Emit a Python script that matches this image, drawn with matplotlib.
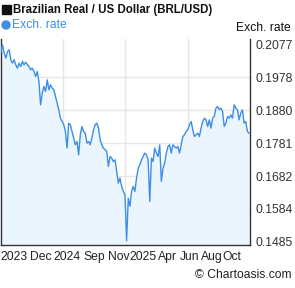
import matplotlib
matplotlib.use("Agg")
import matplotlib.pyplot as plt
import matplotlib.patches as mpatches
import numpy as np

plt.rcParams['font.family'] = ['Liberation Sans', 'DejaVu Sans']

# Exchange rate samples (BRL/USD), roughly evenly spaced over two years
rates = [
    0.2056, 0.2076, 0.2051, 0.2036, 0.2056, 0.2061, 0.2031, 0.2021, 0.2031, 0.2016,
    0.2006, 0.2021, 0.2011, 0.2026, 0.2016, 0.2024, 0.2016, 0.2011, 0.2001, 0.2006,
    0.1996, 0.1981, 0.1996, 0.1966, 0.1896, 0.1931, 0.1951, 0.1936, 0.1971, 0.1941,
    0.1956, 0.1946, 0.1941, 0.1921, 0.1901, 0.1881, 0.1856, 0.1846, 0.1836, 0.1816,
    0.1766, 0.1841, 0.1836, 0.1816, 0.1796, 0.1776, 0.1786, 0.1746, 0.1806, 0.1831,
    0.1816, 0.1811, 0.1781, 0.1786, 0.1776, 0.1796, 0.1821, 0.1836, 0.1841, 0.1826,
    0.1791, 0.1776, 0.1766, 0.1761, 0.1756, 0.1711, 0.1741, 0.1736, 0.1726, 0.1731,
    0.1696, 0.1661, 0.1676, 0.1651, 0.1636, 0.1626, 0.1488, 0.1616, 0.1591, 0.1636,
    0.1651, 0.1636, 0.1676, 0.1706, 0.1716, 0.1731, 0.1741, 0.1751, 0.1746, 0.1731,
    0.1606, 0.1736, 0.1726, 0.1766, 0.1751, 0.1741, 0.1776, 0.1666, 0.1706, 0.1721,
    0.1751, 0.1771, 0.1776, 0.1751, 0.1776, 0.1771, 0.1766, 0.1771, 0.1751, 0.1776,
    0.1801, 0.1806, 0.1816, 0.1821, 0.1836, 0.1846, 0.1821, 0.1801, 0.1806, 0.1811,
    0.1801, 0.1826, 0.1846, 0.1856, 0.1851, 0.1831, 0.1851, 0.1826, 0.1856, 0.1861,
    0.1886, 0.1891, 0.1881, 0.1886, 0.1876, 0.1831, 0.1841, 0.1861, 0.1856, 0.1866,
    0.1856, 0.1896, 0.1886, 0.1881, 0.1851, 0.1871, 0.1881, 0.1841, 0.1846, 0.1816,
    0.1811,
]

y_ticks = [0.2077, 0.1978, 0.1880, 0.1781, 0.1682, 0.1584, 0.1485]
y_tick_labels = ["0.2077", "0.1978", "0.1880", "0.1781", "0.1682", "0.1584", "0.1485"]
x_tick_pos = [8.1, 24.3, 39.9, 56.1, 70.8, 85.5, 100.5, 113.4, 126.9, 139.2]
x_tick_labels = ["2023", "Dec", "2024", "Sep", "Nov", "2025", "Apr", "Jun", "Aug", "Oct"]
grid_x = [37.5, 75.0, 112.5]

title = "Brazilian Real / US Dollar (BRL/USD)"
legend_label = "Exch. rate"
axis_title = "Exch. rate"
credit = "\u00a9 Chartoasis.com"

line_color = "#3d8ee6"
fill_color = "#ebf5fe"

W, H = 295, 288
fig = plt.figure(figsize=(W / 100, H / 100), dpi=100)
ax = fig.add_axes([0.003, 0.149, 0.844, 0.715])

x = np.arange(len(rates)) * (150.0 / (len(rates) - 0.5))
ylo, yhi = 0.1475, 0.2093
ax.fill_between(x, rates, ylo, color=fill_color, lw=0, zorder=1)
ax.plot(x, rates, color=line_color, lw=1.0, zorder=3)

ax.set_xlim(0, 150)
ax.set_ylim(ylo, yhi)

for gx in grid_x:
    ax.axvline(gx, color="#e6e6e6", lw=1.0, zorder=0.5)
for gy in y_ticks[1:-1]:
    ax.axhline(gy, color="#e6e6e6", lw=1.0, zorder=0.5)

ax.yaxis.tick_right()
ax.set_yticks(y_ticks)
ax.set_yticklabels(y_tick_labels)
ax.tick_params(axis='y', length=0, pad=4, labelsize=8.7, labelcolor="#333333")
ax.set_xticks(x_tick_pos)
ax.set_xticklabels(x_tick_labels)
ax.tick_params(axis='x', length=0, pad=4.5, labelsize=8.7, labelcolor="#222222")

ax.spines["top"].set_visible(False)
for side in ["left", "right", "bottom"]:
    ax.spines[side].set_color("#333333")
    ax.spines[side].set_linewidth(1.0)

# Header marks (figure-fraction coordinates)
fig.patches.append(mpatches.Rectangle((2 / W, (H - 14) / H), 8.5 / W, 9 / H,
                                      transform=fig.transFigure, color="#111111",
                                      figure=fig))
fig.patches.append(mpatches.Ellipse((6 / W, (H - 25) / H), 8 / W, 8 / H,
                                    transform=fig.transFigure, color=line_color,
                                    figure=fig))
fig.text(0.044, 0.965, title, fontsize=8.3, fontweight="bold", color="#111111",
         va="center", ha="left")
fig.text(0.041, 0.913, legend_label, fontsize=8.7, color=line_color, va="center", ha="left")
fig.text(0.987, 0.902, axis_title, fontsize=8.7, color="#111111", va="center", ha="right")
fig.text(0.987, 0.045, credit, fontsize=8.7, color="#222222", va="center", ha="right")

fig.savefig("out.png", dpi=100)
